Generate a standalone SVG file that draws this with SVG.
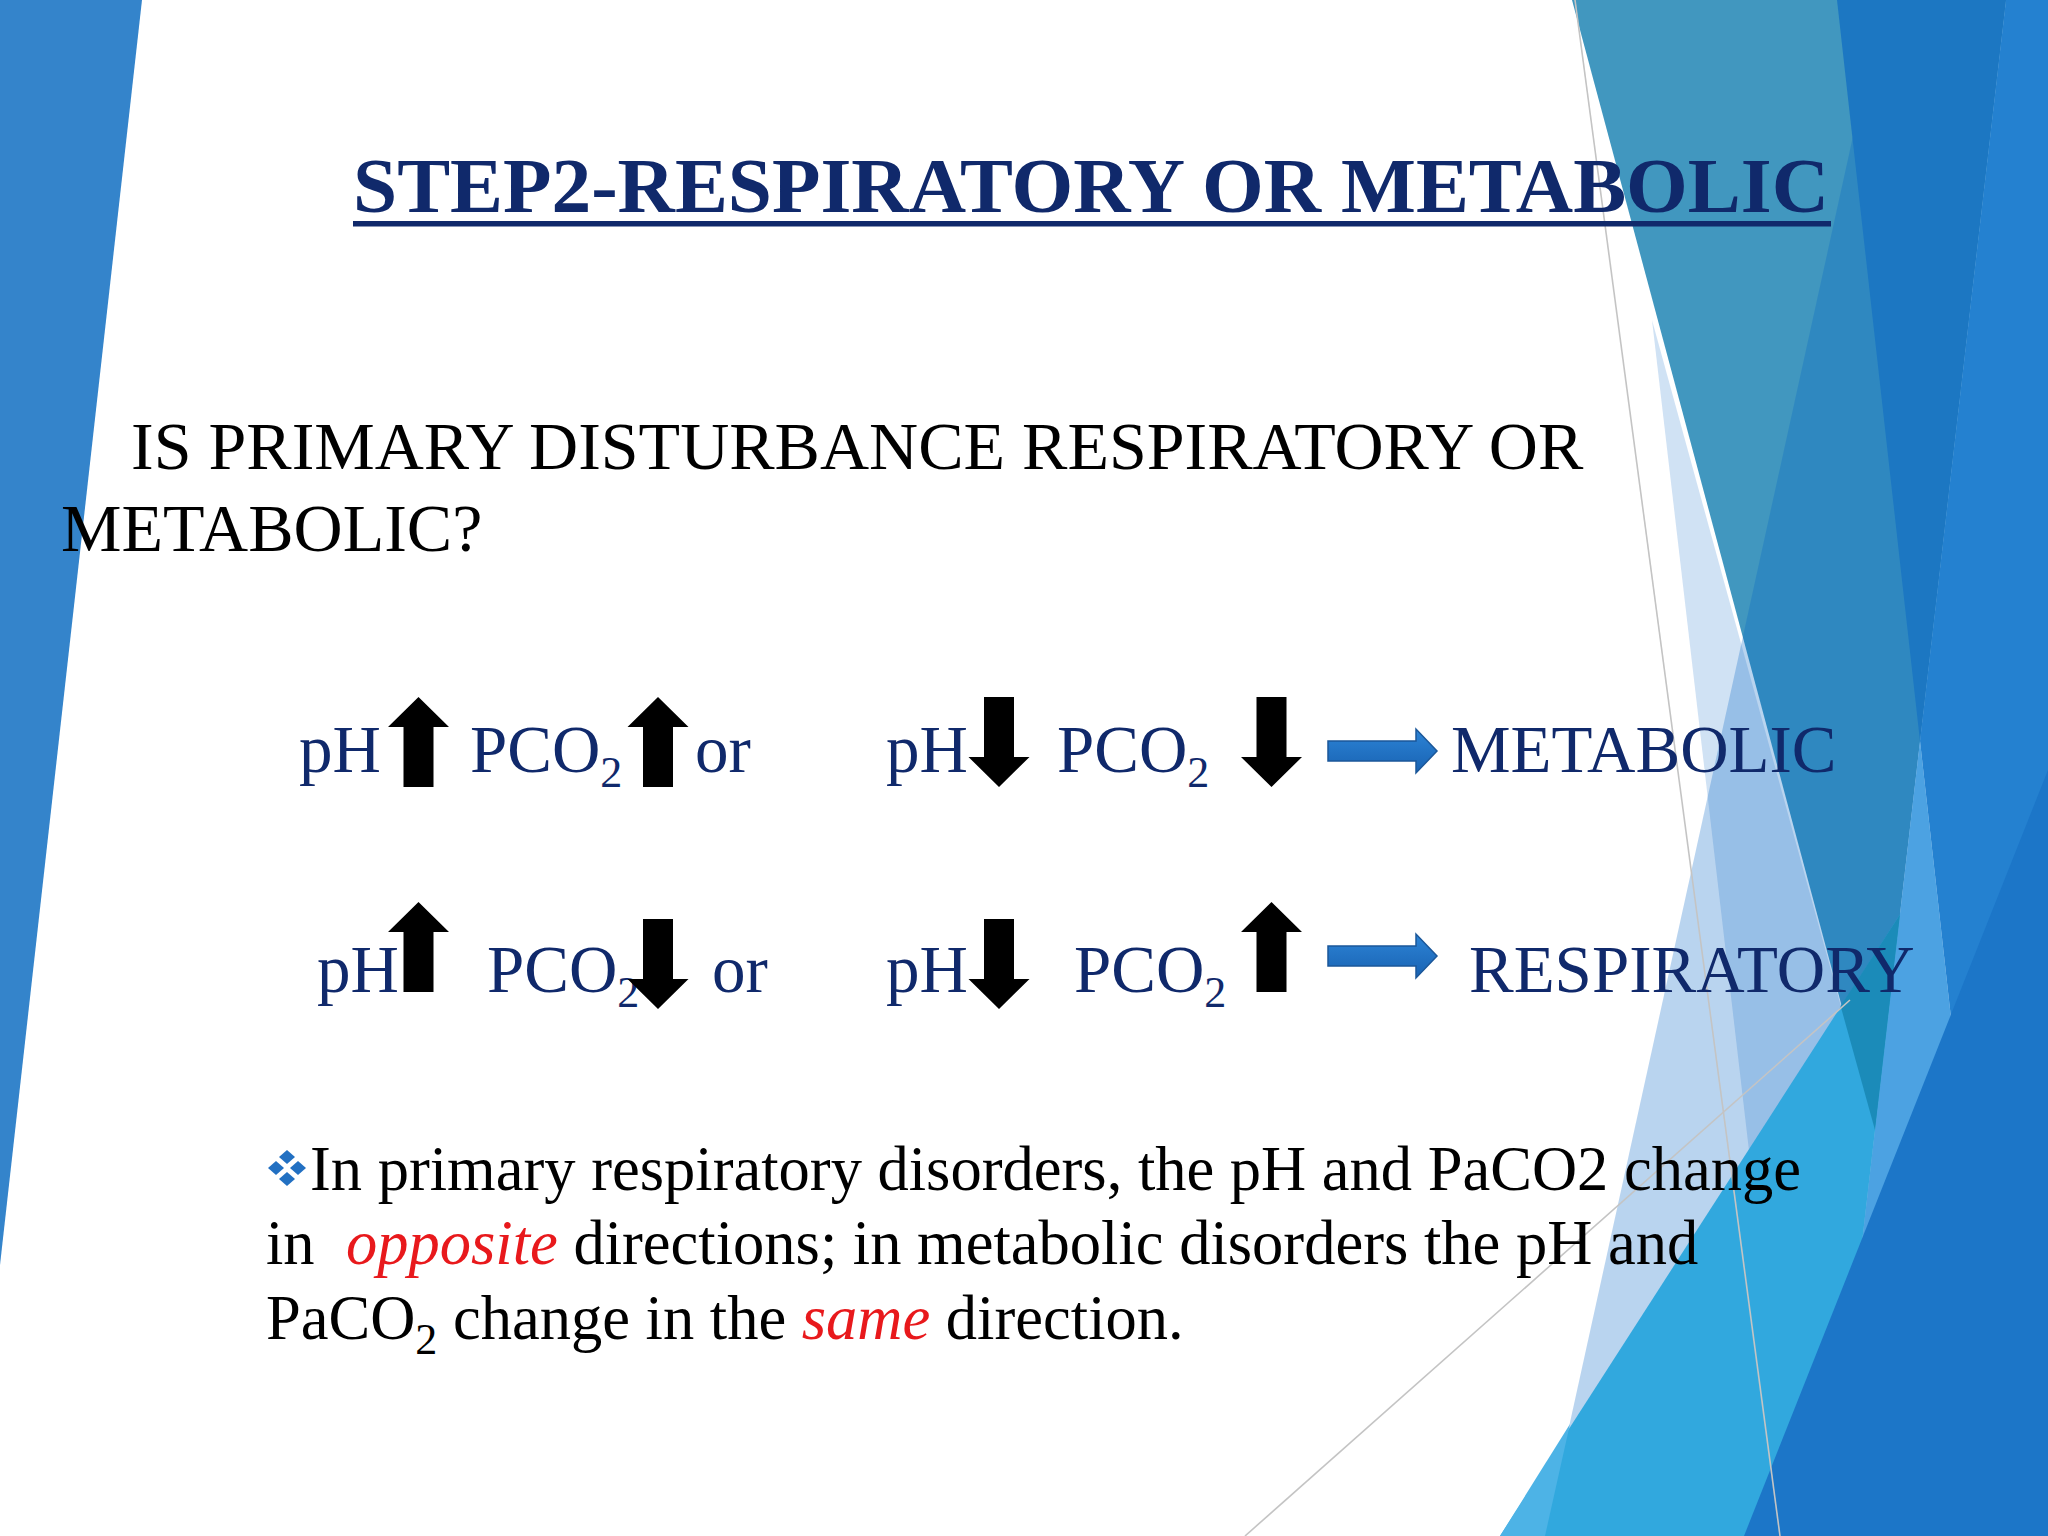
<svg xmlns="http://www.w3.org/2000/svg" width="2048" height="1536" viewBox="0 0 2048 1536">
<style>
  .serif { font-family: "Liberation Serif", "Times New Roman", serif; }
  .title { font-size: 78px; font-weight: bold; fill: #10296b; }
  .q { font-size: 68px; fill: #000000; }
  .row { font-size: 67px; fill: #10296b; }
  .sub { font-size: 44px; }
  .body { font-size: 62.5px; fill: #000000; }
  .red { fill: #e8191c; font-style: italic; }
  .blk { fill: #000000; }
  .grey { stroke: #c4c4c4; stroke-width: 1.6; fill: none; }
  .veil { fill: #0062c5; }
</style>
<defs>
  <linearGradient id="blueArrowGrad" x1="0" y1="0" x2="0" y2="1">
    <stop offset="0" stop-color="#2d84d6"/>
    <stop offset="1" stop-color="#1862b2"/>
  </linearGradient>
  <path id="upArrow" d="M0,0 L30.5,30 L15,30 L15,90 L-15,90 L-15,30 L-30.5,30 Z"/>
  <path id="downArrow" d="M-15,0 L15,0 L15,60 L30.5,60 L0,90 L-30.5,60 L-15,60 Z"/>
  <path id="blueArrow" d="M0,-10 L88,-10 L88,-22 L109,0 L88,22 L88,10 L0,10 Z"/>
</defs>

<rect width="2048" height="1536" fill="#ffffff"/>

<g id="background">
  <polygon points="0,0 142,0 0,1265" fill="#3484cb"/>
  <polygon class="veil" fill-opacity="0.184" points="1652,320 1794,1536 1900,1536 1875,1130"/>
  <polygon points="1572,0 2006,0 1875,1130" fill="#4197bf"/>
  <polygon class="veil" fill-opacity="0.274" points="1883,0 2048,0 2048,1536 1545,1536"/>
  <polygon points="1837,0 2006,0 1920,741" fill="#1c77c2"/>
  <polygon points="2006,0 2048,0 2048,1536 2009,1536 1920,741" fill="#2481d0"/>
  <polygon points="1920,741 2009,1536 1828,1536" fill="#4ca2e2"/>
  <polygon points="1500,1536 1900,914.5 1828,1536" fill="#31a8de"/>
  <polygon points="1500,1536 1570,1424 1545,1536" fill="#4db3e6"/>
  <polygon points="1840.6,1006 1900,914.5 1875,1130" fill="#1b8bb9"/>
  <polygon points="1744,1536 2048,770 2048,1536" fill="#1c76c8"/>
  <line class="grey" x1="1575" y1="0" x2="1780" y2="1536"/>
  <line class="grey" x1="1245" y1="1536" x2="1850" y2="1000"/>
</g>

<g id="title">
  <text class="serif title" x="353" y="212" textLength="1476" lengthAdjust="spacingAndGlyphs">STEP2-RESPIRATORY OR METABOLIC</text>
  <rect x="353" y="221" width="1478" height="5.5" fill="#10296b"/>
</g>

<g id="question">
  <text class="serif q" x="131" y="469">IS PRIMARY DISTURBANCE RESPIRATORY OR</text>
  <text class="serif q" x="61" y="551">METABOLIC?</text>
</g>

<g id="row1">
  <text class="serif row" x="299" y="772">pH</text>
  <use href="#upArrow" class="blk" x="418.5" y="697"/>
  <text class="serif row" x="470" y="772">PCO<tspan class="sub" dy="15">2</tspan></text>
  <use href="#upArrow" class="blk" x="658" y="697"/>
  <text class="serif row" x="695" y="772">or</text>
  <text class="serif row" x="886" y="772">pH</text>
  <use href="#downArrow" class="blk" x="999" y="697"/>
  <text class="serif row" x="1057" y="772">PCO<tspan class="sub" dy="15">2</tspan></text>
  <use href="#downArrow" class="blk" x="1271.5" y="697"/>
  <text class="serif row" x="1451" y="772">METABOLIC</text>
</g>

<g id="row2">
  <text class="serif row" x="317" y="992">pH</text>
  <use href="#upArrow" class="blk" x="418.5" y="902"/>
  <text class="serif row" x="487" y="992">PCO<tspan class="sub" dy="15">2</tspan></text>
  <use href="#downArrow" class="blk" x="658" y="919"/>
  <text class="serif row" x="712" y="992">or</text>
  <text class="serif row" x="886" y="992">pH</text>
  <use href="#downArrow" class="blk" x="999" y="919"/>
  <text class="serif row" x="1074" y="992">PCO<tspan class="sub" dy="15">2</tspan></text>
  <use href="#upArrow" class="blk" x="1271.5" y="902"/>
  <text class="serif row" x="1469" y="992">RESPIRATORY</text>
</g>

<g id="connectors">
  <use href="#blueArrow" x="1328" y="751" fill="url(#blueArrowGrad)" stroke="#1b5799" stroke-width="1.5"/>
  <use href="#blueArrow" x="1328" y="956" fill="url(#blueArrowGrad)" stroke="#1b5799" stroke-width="1.5"/>
</g>

<g id="explanation">
  <g id="bullet" fill="#2270c2">
    <polygon points="287,1150 295,1157 287,1164 279,1157"/>
    <polygon points="276,1161 284,1168 276,1175 268,1168"/>
    <polygon points="298,1161 306,1168 298,1175 290,1168"/>
    <polygon points="287,1172 295,1179 287,1186 279,1179"/>
  </g>
  <text class="serif body" x="310" y="1190">In primary respiratory disorders, the pH and PaCO2 change</text>
  <text class="serif body" x="266" y="1264">in<tspan class="red" x="346">opposite</tspan> directions; in metabolic disorders the pH and</text>
  <text class="serif body" x="266" y="1339">PaCO<tspan class="sub" dy="15">2</tspan><tspan dy="-15"> change in the </tspan><tspan class="red">same</tspan> direction.</text>
</g>
</svg>
